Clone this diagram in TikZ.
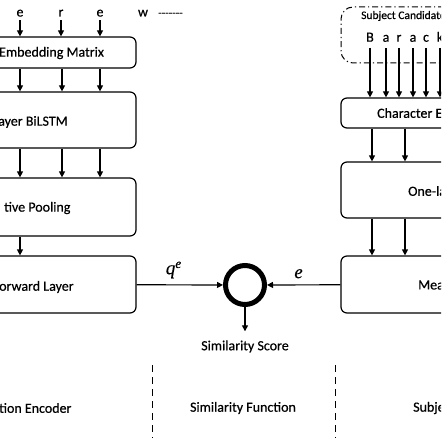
\documentclass[tikz,border=0pt]{standalone}
\usepackage{fontspec}
\setmainfont{Carlito}[FakeBold=0.5]
\newfontfamily\mathLike{Liberation Serif}[FakeBold=0.3]
\usetikzlibrary{arrows.meta}

\begin{document}
\begin{tikzpicture}
[x=1pt,y=-1pt,
  roundBox/.style={draw,rounded corners=6pt,line width=1.2pt,inner sep=0pt,minimum width=300pt},%
  candFrame/.style={draw,rounded corners=12pt,line width=1pt,minimum width=300pt,
    dash pattern=on 6pt off 3pt on 1.2pt off 3pt},%
  labelText/.style={inner sep=0pt,font=\fontsize{14}{16}\selectfont},%
  smallText/.style={inner sep=0pt,font=\fontsize{11.5}{13}\selectfont},%
  mathText/.style={inner sep=0pt,font=\mathLike\itshape\fontsize{19}{21}\selectfont},%
  thinArrow/.style={-{Triangle[length=6pt,width=6pt]},line width=1.2pt},%
  thickArrow/.style={thinArrow,line width=2.8pt},%
  sumCircle/.style={shape=circle,draw,line width=5pt,minimum size=39pt,inner sep=0pt},%
  splitLine/.style={line width=1pt,dash pattern=on 7pt off 5pt}]
\useasboundingbox (0,0) rectangle (441,441);
\clip (0,0) rectangle (441,441);
%% question encoder boxes
\node[roundBox,minimum height=31pt] (wordEmb) at (-14,52.5) {};
\node[roundBox,minimum height=56pt] (biLstm) at (-14,120) {};
\node[roundBox,minimum height=58pt] (attPool) at (-14,207) {};
\node[roundBox,minimum height=57pt] (feedFwd) at (-14,284.5) {};
\node[labelText,anchor=west] (wordEmbText) at (-1,53) {Embedding Matrix};
\node[labelText,anchor=west] (biLstmText) at (-2,122) {ayer BiLSTM};
\node[labelText,anchor=west] (attPoolText) at (4,208) {tive Pooling};
\node[labelText,anchor=west] (feedFwdText) at (-1,287) {orward Layer};
%% subject encoder boxes
\node[candFrame,minimum height=56pt] (candidate) at (491,35) {};
\node[roundBox,minimum height=30pt] (charEmb) at (491,113) {};
\node[roundBox,minimum height=56pt] (oneLayer) at (491,190) {};
\node[roundBox,minimum height=57pt] (meanPool) at (491,284.5) {};
\node[smallText,anchor=west] (candidateText) at (361,16) {Subject Candidate};
\node[labelText,anchor=west] (charEmbText) at (377,113) {Character E};
\node[labelText,anchor=west] (oneLayerText) at (408,191) {One-la};
\node[labelText,anchor=west] (meanPoolText) at (418,285) {Mea};
%% question words
\foreach \nodename/\x/\ch in {inE1/20/e, inR/61/r, inE2/100/e}
{
  \node[labelText,anchor=base] (\nodename) at (\x,16.5) {\ch};
  \draw[thinArrow,shorten <=3.5pt] (\nodename.south) -- (\nodename.south |- wordEmb.north);
}
\node[labelText,anchor=base] (inW) at (143,16.5) {w};
\node[smallText,anchor=base west] (inMore) at (158,16.5) {-{}-{}-{}-{}-{}-{}-};
%% columns between the question boxes
\foreach \x in {20,62,100}
{
  \coordinate (col\x) at (\x,0);
  \draw[thinArrow] (col\x |- wordEmb.south) -- (col\x |- biLstm.north);
  \draw[thinArrow] (col\x |- biLstm.south) -- (col\x |- attPool.north);
}
\draw[thinArrow] (col20 |- attPool.south) -- (col20 |- feedFwd.north);
%% subject characters
\foreach \nodename/\x/\ch in {chB/370/B, chA1/386/a, chR/399/r, chA2/413/a, chC/426/c}
{
  \node[labelText,anchor=base] (\nodename) at (\x,41.7) {\ch};
  \draw[thinArrow,shorten <=6pt] (\nodename.south) -- (\nodename.south |- charEmb.north);
}
\node[labelText,anchor=base] (chK) at (440,41.7) {k};
\draw[thickArrow,shorten <=6pt] (chK.south) -- (chK.south |- charEmb.north);
%% columns between the subject boxes
\foreach \x in {372,405}
{
  \coordinate (col\x) at (\x,0);
  \draw[thinArrow] (col\x |- charEmb.south) -- (col\x |- oneLayer.north);
  \draw[thinArrow] (col\x |- oneLayer.south) -- (col\x |- meanPool.north);
}
%% similarity function
\node[sumCircle] (sim) at (245,285) {};
\node[labelText] (score) at (245,346.5) {Similarity Score};
\draw[thinArrow] (feedFwd) -- node[mathText,above=6pt,pos=0.43] (qLabel) {q\textsuperscript{e}} (sim);
\draw[thinArrow] (meanPool) -- node[mathText,above=6pt,pos=0.57] (eLabel) {e} (sim);
\draw[thinArrow,shorten >=9pt] (sim) -- (score);
%% section split
\foreach \x in {152,335}
{
  \draw[splitLine] (\x,365) -- (\x,438);
}
\node[labelText,anchor=west] (qEncText) at (-1,408) {tion Encoder};
\node[labelText] (simFunText) at (243,408) {Similarity Function};
\node[labelText,anchor=west] (subjEncText) at (413,408) {Subje};
\end{tikzpicture}
\end{document}
